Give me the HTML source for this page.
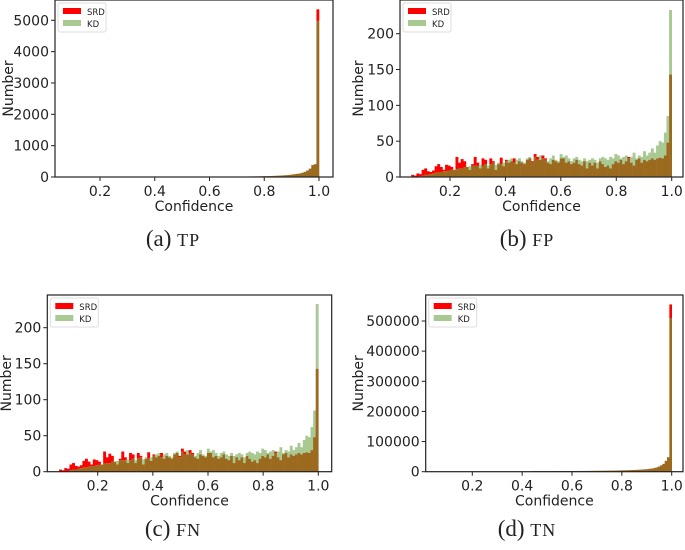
<!DOCTYPE html>
<html><head><meta charset="utf-8"><style>
body{margin:0;background:#fff;width:685px;height:550px;overflow:hidden}
svg{display:block}
.t{font-family:"DejaVu Sans","Liberation Sans",sans-serif;font-size:14px;fill:#222}
.cap{font-family:"Liberation Serif",serif;font-size:23px;fill:#222}
.lg{font-family:"DejaVu Sans","Liberation Sans",sans-serif;font-size:8.5px;fill:#222}
</style></head><body>
<svg id="c" width="685" height="550"></svg>
<script>
const fpSRD=[3,2,5,4,10,12,8,7,9,15,18,14,10,17,16,14,10,28,20,25,22,14,10,18,28,20,12,26,24,12,26,22,10,18,27,15,24,20,22,26,18,22,20,18,24,26,22,32,28,24,30,26,20,18,24,22,20,26,26,20,22,18,20,24,18,16,22,12,20,16,20,12,22,18,14,16,12,18,22,20,24,18,22,28,20,16,24,26,20,24,22,24,26,24,26,27,26,30,48,143];
const fpKD=[0,0,0,1,2,3,3,4,5,6,6,7,8,8,9,10,10,11,12,12,14,14,15,16,16,16,17,16,18,16,18,20,17,20,18,20,22,24,26,20,24,26,22,20,26,28,20,28,24,30,26,24,22,26,30,24,22,32,28,30,26,22,26,28,24,22,26,22,24,26,24,20,26,28,26,24,28,26,32,30,26,28,30,26,28,34,26,30,28,36,30,34,40,34,44,50,48,62,85,233];
const tpSRD=[0,0,0,0,0,0,0,0,0,0,0,0,0,0,0,0,0,0,0,0,0,0,0,0,0,0,0,0,0,0,0,0,0,0,0,0,0,0,0,0,2,2,2,3,3,3,3,4,4,4,5,5,5,5,6,6,6,7,7,8,8,9,9,10,10,11,12,12,13,14,15,16,17,18,19,20,22,24,26,28,30,33,36,40,44,48,54,60,68,78,90,100,110,130,160,200,260,380,400,5350];
const tpKD=[0,0,0,0,0,0,0,0,0,0,0,0,0,0,0,0,0,0,0,0,0,0,0,0,0,0,0,0,0,0,0,0,0,0,0,0,0,0,0,0,2,2,2,3,3,3,3,4,4,4,5,5,5,5,6,6,6,7,7,8,8,9,9,10,10,11,12,12,13,14,15,16,17,18,19,20,22,24,26,28,30,33,36,40,44,48,54,60,68,78,92,104,116,140,170,220,280,390,420,4980];
const tnSRD=[0,0,0,0,0,0,0,0,0,0,0,0,0,0,0,0,0,0,0,0,0,0,0,0,0,0,0,0,0,0,0,0,0,0,0,0,0,0,0,0,1500,1500,1600,1600,1700,1700,1800,1800,1900,1900,2000,2000,2100,2100,2200,2200,2300,2300,2400,2400,2500,2500,2600,2600,2700,2800,2900,3000,3100,3200,3300,3400,3500,3600,3700,3800,4000,4200,4400,4600,4800,5000,5300,5600,6000,6400,6800,7300,7800,8500,9500,10500,12000,14000,17000,21000,26000,36000,48000,555000];
const tnKD=[0,0,0,0,0,0,0,0,0,0,0,0,0,0,0,0,0,0,0,0,0,0,0,0,0,0,0,0,0,0,0,0,0,0,0,0,0,0,0,0,1500,1500,1600,1600,1700,1700,1800,1800,1900,1900,2000,2000,2100,2100,2200,2200,2300,2300,2400,2400,2500,2500,2600,2600,2700,2800,2900,3000,3100,3200,3300,3400,3500,3600,3700,3800,4000,4200,4400,4600,4800,5000,5300,5600,6000,6400,6800,7300,7800,8500,9500,10500,12000,14000,17000,21000,26000,36000,48000,510000];
const xTicks=[0.2,0.4,0.6,0.8,1.0];
const tpYTicks=[0,1000,2000,3000,4000,5000];
const fpYTicks=[0,50,100,150,200];
const tnYTicks=[0,100000,200000,300000,400000,500000];
const binStart=0.06, binEnd=1.0;

const NS="http://www.w3.org/2000/svg";
const svg=document.getElementById('c');
function mk(tag,attrs,parent){const e=document.createElementNS(NS,tag);for(const k in attrs)e.setAttribute(k,attrs[k]);(parent||svg).appendChild(e);return e;}

function panel(p){
  const g=mk('g',{});
  
  
  const x=v=>p.x02+(v-0.2)/0.8*(p.x10-p.x02);
  const y=v=>p.bot-v*p.yScale;
  const n=p.srd.length, bw=(binEnd-binStart)/n;
  for(let i=0;i<n;i++){
    const x0=x(binStart+i*bw), x1=x(binStart+(i+1)*bw), w=x1-x0+0.3;
    const s=p.srd[i], k=p.kd[i], m=Math.min(s,k);
    if(s>m){const r=mk('rect',{x:x0,y:y(s),width:w,height:y(m)-y(s),fill:'#ff0000'},g);
      }
    if(k>m){const r=mk('rect',{x:x0,y:y(k),width:w,height:y(m)-y(k),fill:'#a8c992'},g);
      }
    if(m>0){const r=mk('rect',{x:x0,y:y(m),width:w,height:p.bot-y(m),fill:'#9c6a1e'},g);
      }
  }
  const fr=mk('rect',{x:p.left,y:p.top,width:p.right-p.left,height:p.bot-p.top,fill:'none',stroke:'#222','stroke-width':1.2},g);
  
  xTicks.forEach(v=>{
    const xx=x(v);
    mk('line',{x1:xx,x2:xx,y1:p.bot,y2:p.bot+4,stroke:'#222'},g);
    const t=mk('text',{x:xx,y:p.bot+19,'text-anchor':'middle',class:'t'},g);t.textContent=v.toFixed(1);
    
  });
  p.yt.forEach(v=>{
    const yy=y(v);
    mk('line',{x1:p.left-4,x2:p.left,y1:yy,y2:yy,stroke:'#222'},g);
    const t=mk('text',{x:p.left-6,y:yy+5,'text-anchor':'end',class:'t'},g);t.textContent=v;
    
  });
  const xl=mk('text',{x:(p.left+p.right)/2,y:p.bot+34,'text-anchor':'middle',class:'t'},g);xl.textContent='Confidence';
  
  const cy=(p.top+p.bot)/2;
  const yl=mk('text',{x:p.ylx,y:cy,'text-anchor':'middle',class:'t',transform:`rotate(-90 ${p.ylx} ${cy})`},g);yl.textContent='Number';
  
  const lg=mk('g',{},g);
  
  mk('rect',{x:p.left+3,y:p.top+3,width:48,height:29,fill:'#fff',stroke:'#ddd',rx:2},lg);
  mk('rect',{x:p.left+8,y:p.top+8,width:18,height:6,fill:'#ff0000'},lg);
  mk('rect',{x:p.left+8,y:p.top+20,width:18,height:6,fill:'#a8c992'},lg);
  const a=mk('text',{x:p.left+32,y:p.top+15,class:'lg'},lg);a.textContent='SRD';
  
  const b=mk('text',{x:p.left+32,y:p.top+27,class:'lg'},lg);b.textContent='KD';
  
  const c=mk('text',{x:p.capx,y:p.capy,'text-anchor':'middle',class:'cap'},g);
  c.innerHTML=p.cap;
  
}
panel({name:'panel-tp',left:55,right:333,top:0,bot:177,x02:100,x10:319,yScale:156.7/5000,yt:tpYTicks,srd:tpSRD,kd:tpKD,ylx:13,capx:173,capy:246,cap:'(a) <tspan font-size="18" letter-spacing="1">TP</tspan>'});
panel({name:'panel-fp',left:400,right:683,top:0,bot:177,x02:450,x10:671.7,yScale:143.3/200,yt:fpYTicks,srd:fpSRD,kd:fpKD,ylx:363,capx:527,capy:246,cap:'(b) <tspan font-size="18" letter-spacing="1">FP</tspan>'});
panel({name:'panel-fn',left:47.3,right:331.7,top:295,bot:471.7,x02:97.7,x10:318.3,yScale:144/200,yt:fpYTicks,srd:fpSRD,kd:fpKD,ylx:11,capx:173,capy:536,cap:'(c) <tspan font-size="18" letter-spacing="1">FN</tspan>'});
panel({name:'panel-tn',left:425.7,right:683,top:295,bot:471.7,x02:472.3,x10:671.7,yScale:150.7/500000,yt:tnYTicks,srd:tnSRD,kd:tnKD,ylx:363,capx:527,capy:536,cap:'(d) <tspan font-size="18" letter-spacing="1">TN</tspan>'});
</script>
</body></html>
